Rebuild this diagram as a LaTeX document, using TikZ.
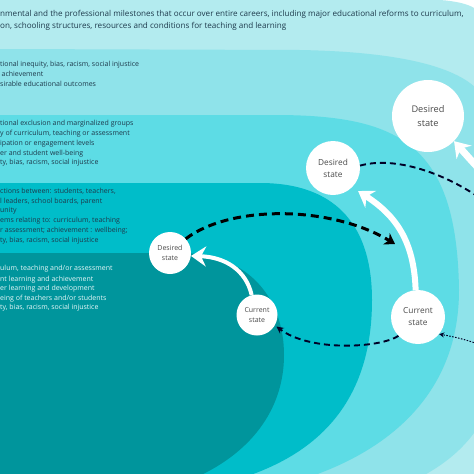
\documentclass[tikz,border=0pt]{standalone}
\usepackage{fontspec}
\setmainfont{Open Sans}
\usetikzlibrary{arrows.meta}
\definecolor{cA}{HTML}{B3EBEF}
\definecolor{cB}{HTML}{8FE3EA}
\definecolor{cC}{HTML}{5DDCE5}
\definecolor{cD}{HTML}{00BDC9}
\definecolor{cE}{HTML}{00959C}
\definecolor{txt}{HTML}{1E3A4C}
\definecolor{txtw}{HTML}{E6F7F8}
\definecolor{ctxt}{HTML}{4A4A4A}
\tikzset{
  lbl/.style={anchor=base west, inner sep=0pt, text=txt, font=\fontsize{7}{8}\selectfont},
  lblw/.style={lbl, text=txtw},
  toplbl/.style={anchor=base west, inner sep=0pt, text=txt, font=\fontsize{8.1}{9}\selectfont},
  statenode/.style={circle, fill=white, inner sep=0pt, align=center, text=ctxt},
  whitearrow/.style={draw=white, line cap=butt, -{Stealth[length=15pt,width=20pt,inset=5pt]}},
  bigdash/.style={draw=black, line width=3pt, dash pattern=on 8pt off 5pt, -{Stealth[length=10pt,width=13pt,inset=3pt]}},
  middash/.style={draw=black!85!blue, line width=1.9pt, dash pattern=on 6pt off 4pt},
  dotline/.style={draw=black!85!blue, line width=1pt, dash pattern=on 1.5pt off 1.5pt, -{Stealth[length=5pt,width=5pt]}}
}
\begin{document}
\begin{tikzpicture}[x=1pt,y=-1pt]
\useasboundingbox (0,0) rectangle (474,474);
\clip (0,0) rectangle (474,474);
\fill[white] (0,0) rectangle (474,474);
% layers
\fill[cA] (0,0) -- (440,0) .. controls (455,1) and (468,4) .. (474,8) -- (480,8) -- (480,480) -- (0,480) -- cycle;
\fill[cB] (0,49) -- (300,50) .. controls (410,52) and (470,70) .. (485,100) -- (485,415) .. controls (470,445) and (445,465) .. (415,480) -- (0,480) -- cycle;
\fill[cC] (0,115) -- (280,115) .. controls (400,116) and (457,145) .. (459,290) .. controls (459,400) and (380,455) .. (300,480) -- (0,480) -- cycle;
\fill[cD] (0,183) -- (260,183) .. controls (340,183) and (372,230) .. (372,300) .. controls (372,400) and (320,455) .. (235,480) -- (0,480) -- cycle;
\fill[cE] (0,253) -- (180,253) .. controls (250,253) and (284,300) .. (284,355) .. controls (284,410) and (250,455) .. (190,480) -- (0,480) -- cycle;
% texts
\node[toplbl] (t1) at (0,16) {nmental and the professional milestones that occur over entire careers, including major educational reforms to curriculum,};
\node[toplbl] (t2) at (0,28) {on, schooling structures, resources and conditions for teaching and learning};
\node[lbl] (t3) at (0,66) {tional inequity, bias, racism, social injustice};
\node[lbl] (t4) at (1.5,76) {achievement};
\node[lbl] (t5) at (0,86) {sirable educational outcomes};
\node[lbl] (t6) at (0,125.5) {tional exclusion and marginalized groups};
\node[lbl] (t7) at (0,135.5) {y of curriculum, teaching or assessment};
\node[lbl] (t8) at (0,145) {ipation or engagement levels};
\node[lbl] (t9) at (0,155) {er and student well-being};
\node[lbl] (t10) at (0,164.5) {ty, bias, racism, social injustice};
\node[lbl] (t11) at (0,193.5) {ctions between: students, teachers,};
\node[lbl] (t12) at (0,203.5) {l leaders, school boards, parent};
\node[lbl] (t13) at (0,212.5) {unity};
\node[lbl] (t14) at (0,222.5) {ems relating to: curriculum, teaching};
\node[lbl] (t15) at (0,232.5) {r assessment; achievement : wellbeing;};
\node[lbl] (t16) at (0,242.5) {ty, bias, racism, social injustice};
\node[lblw] (t17) at (0,270.5) {ulum, teaching and/or assessment};
\node[lblw] (t18) at (0,281) {nt learning and achievement};
\node[lblw] (t19) at (0,290.5) {er learning and development};
\node[lblw] (t20) at (0,300.5) {eing of teachers and/or students};
\node[lblw] (t21) at (0,309.5) {ty, bias, racism, social injustice};
% state circles
\node[statenode, minimum size=42pt, font=\fontsize{7}{10}\selectfont] (des1) at (170,253) {Desired\\state};
\node[statenode, minimum size=41pt, font=\fontsize{7}{10}\selectfont] (cur1) at (257,315) {Current\\state};
\node[statenode, minimum size=54pt, font=\fontsize{8.3}{12}\selectfont] (des2) at (333,168) {Desired\\state};
\node[statenode, minimum size=54pt, font=\fontsize{8.3}{12}\selectfont] (cur2) at (418,317) {Current\\state};
\node[statenode, minimum size=72pt, font=\fontsize{9.2}{13.3}\selectfont] (des3) at (428,116) {Desired\\state};
% free ends
\coordinate (rin) at (500,190);
\coordinate (rout) at (490,205);
\coordinate (rdot) at (485,347);
\coordinate (mid) at (395,244);
% white arrows
\draw[whitearrow, line width=4pt] (cur1.105) .. controls (246,270) and (225,257) .. (des1.-8);
\draw[whitearrow, line width=6pt, shorten >=7pt] (cur2.95) .. controls (414,240) and (395,215) .. (des2.-45);
\draw[whitearrow, line width=7pt] (rin) .. controls (478,168) .. (des3.-44);
% dashed arrows
\draw[bigdash] (des1.42) .. controls (230,205) and (330,205) .. (mid);
\draw[middash] (des2.5) .. controls (390,157) and (440,168) .. (rout);
\draw[middash, -{Stealth[length=7pt,width=7pt]}, shorten >=2pt] (cur2.224) .. controls (380,348) and (310,352) .. (cur1.-30);
\draw[dotline] (rdot) .. controls (470,340) and (450,336) .. (cur2.-39);
\end{tikzpicture}
\end{document}
